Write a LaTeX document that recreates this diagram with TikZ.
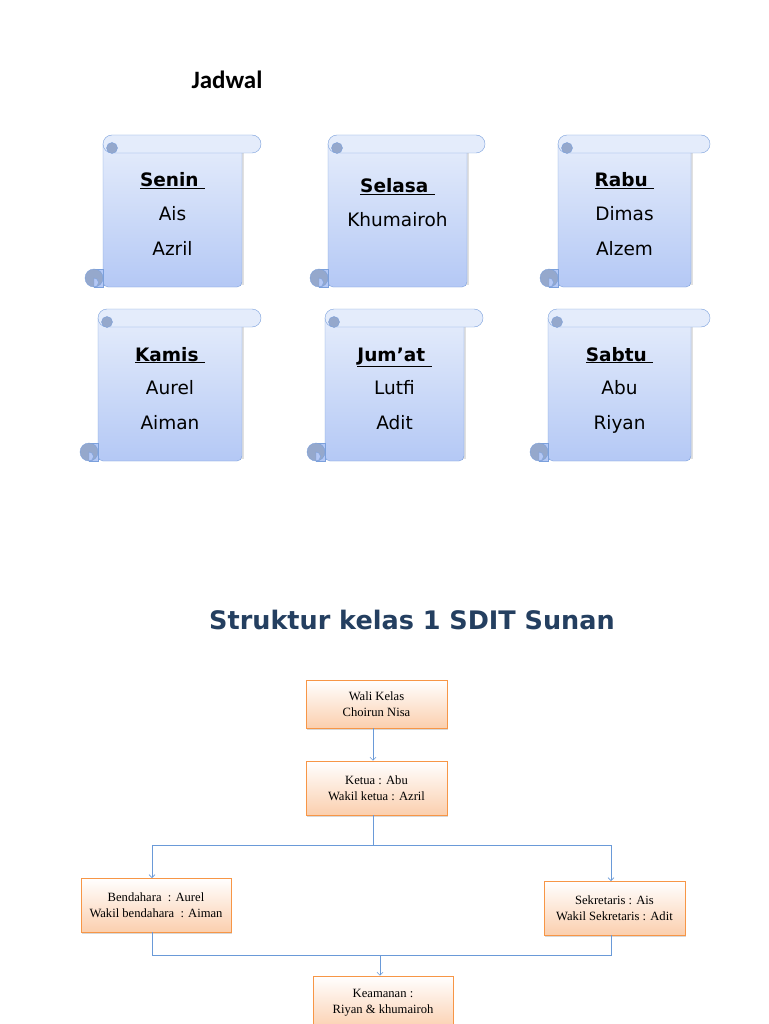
\documentclass[tikz,border=0pt]{standalone}
\usepackage{fontspec}
\setmainfont{Liberation Serif}
\newfontfamily\dv{DejaVu Sans}
\newfontfamily\cb{Carlito}
\usetikzlibrary{arrows.meta,shadows}
\definecolor{scb}{HTML}{7BA0DC}
\definecolor{sct}{HTML}{E4ECFB}
\definecolor{scbot}{HTML}{B4C8F5}
\definecolor{curl}{HTML}{95A8CC}
\definecolor{orb}{HTML}{F79646}
\definecolor{orf}{HTML}{FBCFAE}
\definecolor{lnk}{HTML}{6A9AD8}
\definecolor{ttl}{HTML}{243F60}
\tikzset{
  orgbox/.style={draw=orb,line width=0.8pt,top color=white,bottom color=orf,drop shadow={opacity=0.3,shadow xshift=1pt,shadow yshift=-1.5pt},font=\fontsize{12.6}{16}\selectfont,align=center,inner sep=0pt},
  lk/.style={draw=lnk,line width=0.6pt},
  ar/.style={lk,-{Straight Barb[length=3pt,width=6pt]}},
  dayt/.style={font=\dv\bfseries\fontsize{18.5}{22}\selectfont,anchor=base},
  namet/.style={font=\dv\fontsize{18.5}{23}\selectfont}
}
\newcommand{\myscroll}[8]{%
  \fill[black,opacity=0.12] (#1+2,#2+7) rectangle (#3+2,#5-2);
  \draw[scb,top color=sct,bottom color=scbot,rounded corners=5pt] (#1,#2+9) -- (#1,#5) -- (#3,#5) -- (#3,#2+9);
  \draw[scb,fill=sct,rounded corners=9pt] (#1,#2) rectangle (#4,#2+18);
  \draw[scb,fill=curl] (#1+9,#2+13) circle (5.5);
  \draw[scb,fill=scbot] (#1-9,#5-18) -- (#1,#5-18) -- (#1,#5) -- (#1-9,#5) -- cycle;
  \draw[scb,fill=curl] (#1-9,#5-9) circle (9);
  \draw[scb,fill=scbot] (#1-9,#5-9) arc (-90:0:4.5) arc (0:90:4.5) -- cycle;
  \node[dayt] at ({(#1+#3)/2},#2+52+#8) {\underline{#6\ }};
  \node[namet,align=center,anchor=north] at ({(#1+#3)/2},#2+68+#8) {#7};
}
\begin{document}
\begin{tikzpicture}[x=1pt,y=-1pt]
\useasboundingbox (0,0) rectangle (768,1024);
\fill[white] (0,0) rectangle (768,1024);
\node[font=\cb\bfseries\fontsize{25}{30}\selectfont] (jd) at (227,80) {Jadwal};
\myscroll{103}{135}{242}{261}{287}{Senin}{Ais\\[12pt]Azril}{0}
\myscroll{328}{135}{467}{485}{287}{Selasa}{Khumairoh}{6}
\myscroll{558}{135}{691}{710}{287}{Rabu}{Dimas\\[12pt]Alzem}{0}
\myscroll{98}{309}{242}{261}{461}{Kamis}{Aurel\\[12pt]Aiman}{0}
\myscroll{325}{309}{464}{483}{461}{Jum’at}{Lutfi\\[12pt]Adit}{0}
\myscroll{548}{309}{691}{710}{461}{Sabtu}{Abu\\[12pt]Riyan}{0}
\node[font=\dv\bfseries\fontsize{25.5}{30}\selectfont,text=ttl] (tt) at (412,620) {Struktur kelas 1 SDIT Sunan};
\node[orgbox,minimum width=141pt,minimum height=48pt] (wali) at (376.5,704) {Wali Kelas\\Choirun Nisa};
\node[orgbox,minimum width=141pt,minimum height=54pt] (ketua) at (376.5,788) {Ketua : Abu\\Wakil ketua : Azril};
\node[orgbox,minimum width=150pt,minimum height=54pt] (bend) at (156,905) {Bendahara \ : Aurel\\Wakil bendahara \ : Aiman};
\node[orgbox,minimum width=141pt,minimum height=54pt] (sek) at (614.5,908) {Sekretaris : Ais\\Wakil Sekretaris : Adit};
\node[orgbox,minimum width=140pt,minimum height=54pt] (kea) at (383,1003) {Keamanan :\\ Riyan \& khumairoh};
\coordinate (j1) at (373,845);
\coordinate (j2) at (380,955);
\draw[ar] (wali.south -| 373,0) -- (ketua.north -| 373,0);
\draw[lk] (ketua.south -| j1) -- (j1);
\draw[ar] (j1) -| (152,878);
\draw[ar] (j1) -| (611,881);
\draw[lk] (bend.south -| 152,0) |- (j2) -| (sek.south -| 611,0);
\draw[ar] (j2) -- (kea.north -| j2);
\end{tikzpicture}
\end{document}
